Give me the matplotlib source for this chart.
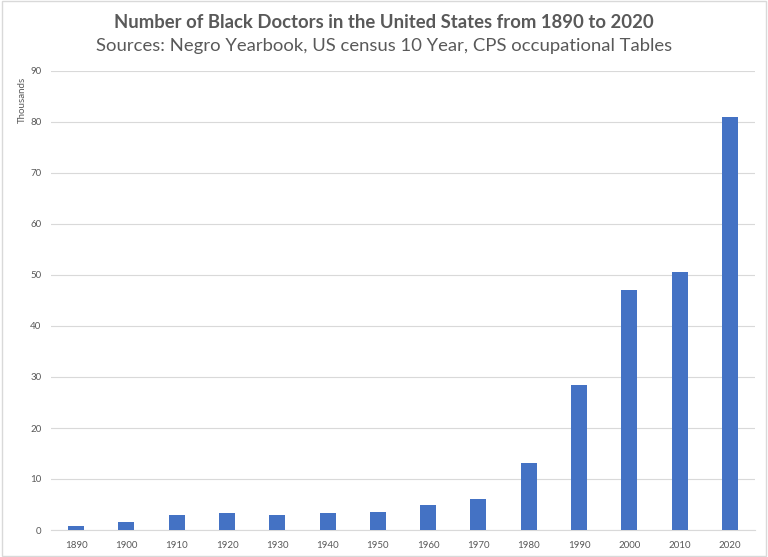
import matplotlib.pyplot as plt
from matplotlib.patches import Rectangle

years = ["1890", "1900", "1910", "1920", "1930", "1940", "1950",
         "1960", "1970", "1980", "1990", "2000", "2010", "2020"]
doctors_k = [0.8, 1.6, 2.9, 3.4, 2.9, 3.4, 3.6,
             4.9, 6.0, 13.2, 28.4, 47.0, 50.6, 81.0]
yticks = [0, 10, 20, 30, 40, 50, 60, 70, 80, 90]

plt.rcParams['font.family'] = ['Lato', 'DejaVu Sans']

fig = plt.figure(figsize=(7.68, 5.57), dpi=100)
ax = fig.add_axes([51 / 768, 1 - 530 / 557, 704 / 768, 459 / 557])

x = range(len(years))
ax.bar(x, doctors_k, width=0.32, color='#4472C4', zorder=3)

ax.set_xlim(-0.5, len(years) - 0.5)
ax.set_ylim(0, 90)
ax.set_yticks(yticks)
ax.set_xticks(list(x))
ax.set_xticklabels(years)
ax.tick_params(axis='both', length=0, labelsize=7, colors='#595959')
ax.tick_params(axis='y', pad=7)
ax.tick_params(axis='x', pad=8)
ax.grid(axis='y', color='#d9d9d9', lw=0.8, zorder=0)
for s in ['top', 'right', 'left']:
    ax.spines[s].set_visible(False)
ax.spines['bottom'].set_color('#d9d9d9')

fig.text(22 / 768, 1 - 100 / 557, "Thousands", rotation=90, ha='center', va='center',
         fontsize=7, color='#595959')

fig.text(0.5, 1 - 22 / 557, "Number of Black Doctors in the United States from 1890 to 2020",
         ha='center', va='center', fontsize=13.3, fontweight='bold', color='#595959')
fig.text(0.5, 1 - 46 / 557, "Sources: Negro Yearbook, US census 10 Year, CPS occupational Tables",
         ha='center', va='center', fontsize=13.3, color='#595959')

fig.patches.append(Rectangle((0.002, 0.002), 0.996, 0.996, transform=fig.transFigure,
                             fill=False, edgecolor='#d9d9d9', lw=1))

fig.savefig("out.png", dpi=100)
